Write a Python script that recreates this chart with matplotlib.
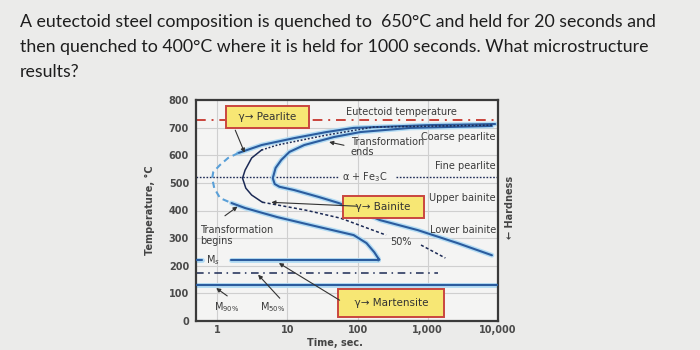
import matplotlib
matplotlib.use("Agg")
import matplotlib.pyplot as plt

# question text
question = ["A eutectoid steel composition is quenched to  650\u00b0C and held for 20 seconds and",
            "then quenched to 400\u00b0C where it is held for 1000 seconds. What microstructure",
            "results?"]

# transformation begins curve (time s, temperature C), upper branch -> nose -> lower branch
begin_upper_t = [9100, 1000, 185, 88, 36, 12.5, 4.3, 2.0]
begin_upper_T = [713, 709, 702, 699, 684, 662, 637, 608]
begin_nose_t = [2.0, 1.43, 1.1, 0.88, 0.85, 0.91, 1.1, 1.6]
begin_nose_T = [608, 590, 565, 539, 517, 481, 445, 427]
begin_lower_t = [1.6, 2.5, 7.2, 21.8, 88, 134, 173, 198]
begin_lower_T = [427, 409, 376, 347, 311, 282, 249, 226]

# transformation ends curve
end_t = [8200, 560, 110, 46, 17.4, 10.7, 8.2, 6.8, 6.2, 6.6, 7.7, 12.5, 28, 54, 210, 720, 2650, 8200]
end_T = [706, 699, 684, 666, 637, 612, 583, 554, 517, 496, 486, 474, 449, 427, 365, 329, 282, 238]

# 50% curve
half_up_t = [8200, 168, 36, 7.2, 4.3]
half_up_T = [709, 702, 673, 637, 619]
half_nose_t = [4.3, 3.1, 2.5, 2.3, 2.56, 3.1, 4.4]
half_nose_T = [619, 590, 546, 517, 481, 456, 430]
half_low1_t = [4.4, 18.5, 57.5, 255]
half_low1_T = [430, 401, 372, 311]
half_low2_t = [800, 1780]
half_low2_T = [275, 228]

# horizontal lines
T_eutectoid = 727
T_alpha = 521
T_ms = 220
T_m50 = 174
T_m90 = 130

right_labels = ["Coarse pearlite", "Fine pearlite", "Upper bainite", "Lower bainite"]
right_label_T = [665, 560, 445, 330]

xticks = [1, 10, 100, 1000, 10000]
xtick_labels = ["1", "10", "100", "1,000", "10,000"]
yticks = [0, 100, 200, 300, 400, 500, 600, 700, 800]

dark = "#2b5c9e"
halo = "#b3dcf4"
navy = "#1c2a55"

fig = plt.figure(figsize=(7, 3.5), dpi=100)
fig.patch.set_facecolor("#ebebea")

for i, line in enumerate(question):
    fig.text(20 / 700, 1 - (22 + i * 25) / 350, line, fontsize=12.8, family="Lato",
             color="#1e1e1e", va="center", ha="left")

ax = fig.add_axes([196 / 700, 1 - 321 / 350, 302 / 700, 221 / 350])
ax.set_facecolor("#f4f4f3")
ax.set_xscale("log")
ax.set_xlim(0.5, 10000)
ax.set_ylim(0, 800)
for s in ax.spines.values():
    s.set_color("#3a3a3a")
    s.set_linewidth(1.6)

for y in yticks[1:-1]:
    ax.axhline(y, color="#cfcfcf", lw=0.8, zorder=0)
for x in xticks[:-1]:
    ax.axvline(x, color="#cfcfcf", lw=0.8, zorder=0)

ax.set_xticks(xticks)
ax.set_xticklabels(xtick_labels)
ax.minorticks_off()
ax.set_yticks(yticks)
ax.tick_params(length=0, labelsize=7, labelcolor="#4a4a4a")
ax.tick_params(axis="x", pad=3)
ax.tick_params(axis="y", pad=5)
for lab in ax.get_xticklabels() + ax.get_yticklabels():
    lab.set_fontweight("bold")


def blue(t, T, ls="-", lw=1.5):
    ax.plot(t, T, color=halo, lw=lw + 2.0, ls=ls, solid_capstyle="round", zorder=2)
    ax.plot(t, T, color=dark, lw=lw, ls=ls, solid_capstyle="round", zorder=3)


# horizontal reference lines
ax.axhline(T_eutectoid, color="#c9443c", lw=1.4, ls=(0, (5, 3, 1, 3)), zorder=2)
ax.plot([0.5, 54], [T_alpha, T_alpha], color=navy, lw=1.0, ls=(0, (1.2, 1.2)), zorder=2)
ax.plot([355, 10000], [T_alpha, T_alpha], color=navy, lw=1.0, ls=(0, (1.2, 1.2)), zorder=2)
ax.plot([0.5, 1380], [T_m50, T_m50], color=navy, lw=1.1, ls=(0, (5, 3, 1, 3)), zorder=2)
blue([0.5, 10000], [T_m90, T_m90])
blue([0.5, 0.6], [T_ms, T_ms])
blue([1.6, 198], [T_ms, T_ms])

# curves
blue(begin_upper_t, begin_upper_T)
ax.plot(begin_nose_t, begin_nose_T, color="#5aa0d8", lw=1.5, ls=(0, (3, 2)), zorder=3)
blue(begin_lower_t, begin_lower_T)
ax.plot([198, 205, 198], [226, 222, 220], color=dark, lw=1.5, zorder=3)
blue(end_t, end_T)
ax.plot(half_up_t, half_up_T, color=navy, lw=1.1, ls=(0, (1.2, 1.2)), zorder=3)
ax.plot(half_nose_t, half_nose_T, color=navy, lw=1.1, zorder=3)
ax.plot(half_low1_t, half_low1_T, color=navy, lw=1.1, ls=(0, (2, 1.5)), zorder=3)
ax.plot(half_low2_t, half_low2_T, color=navy, lw=1.1, ls=(0, (2, 1.5)), zorder=3)

# boxes
box = dict(boxstyle="square,pad=0.6", fc="#f7e774", ec="#c9463f", lw=1.4)
ax.text(5.2, 738, "  \u03b3\u2192 Pearlite  ", fontsize=7.5, ha="center", va="center", bbox=box, zorder=5,
        color="#333")
ax.text(233, 412, "  \u03b3\u2192 Bainite  ", fontsize=7.5, ha="center", va="center", bbox=box, zorder=5,
        color="#333")
ax.text(300, 65, "  \u03b3\u2192 Martensite  ", fontsize=7.5, ha="center", va="center",
        bbox=dict(boxstyle="square,pad=0.9", fc="#f7e774", ec="#c9463f", lw=1.4), zorder=5, color="#333")

txt = dict(fontsize=7, color="#3a3a3a", zorder=5)
ax.text(420, 757, "Eutectoid temperature", ha="center", va="center", **txt)
for lab, T in zip(right_labels, right_label_T):
    ax.text(9300, T, lab, ha="right", va="center", **txt)
ax.text(80, 630, "Transformation\nends", ha="left", va="center", linespacing=1.1, **txt)
ax.text(60, 521, "\u03b1 + Fe$_3$C", ha="left", va="center", **txt)
ax.text(420, 285, "50%", ha="center", va="center", **txt)
ax.text(0.58, 310, "Transformation\nbegins", ha="left", va="center", linespacing=1.1, **txt)
ax.text(0.86, 220, "M$_s$", ha="center", va="center", **txt)
ax.text(1.35, 50, "M$_{90\\%}$", ha="center", va="center", **txt)
ax.text(6.2, 50, "M$_{50\\%}$", ha="center", va="center", **txt)

arr = dict(arrowstyle="-|>", color="#333", lw=0.8, mutation_scale=6)
ax.annotate("", xy=(2.55, 600), xytext=(1.75, 700), arrowprops=arr, zorder=6)
ax.annotate("", xy=(36, 650), xytext=(70, 634), arrowprops=arr, zorder=6)
ax.annotate("", xy=(2.1, 420), xytext=(1.2, 375), arrowprops=arr, zorder=6)
ax.annotate("", xy=(5.4, 430), xytext=(110, 415), arrowprops=arr, zorder=6)
ax.annotate("", xy=(7.0, 215), xytext=(60, 70), arrowprops=arr, zorder=6)
ax.annotate("", xy=(3.6, 175), xytext=(8.3, 75), arrowprops=arr, zorder=6)
ax.annotate("", xy=(0.9, 125), xytext=(1.5, 85), arrowprops=arr, zorder=6)

fig.text(150 / 700, 1 - 210 / 350, "Temperature, \u00b0C", rotation=90, fontsize=7, fontweight="bold",
         color="#444", ha="center", va="center")
fig.text(335 / 700, 1 - 343 / 350, "Time, sec.", fontsize=7, fontweight="bold", color="#444",
         ha="center", va="center")
fig.text(510 / 700, 1 - 207 / 350, "\u2190 Hardness", rotation=90, fontsize=7, fontweight="bold",
         color="#444", ha="center", va="center")

fig.savefig("out.png", dpi=100, facecolor=fig.get_facecolor())
